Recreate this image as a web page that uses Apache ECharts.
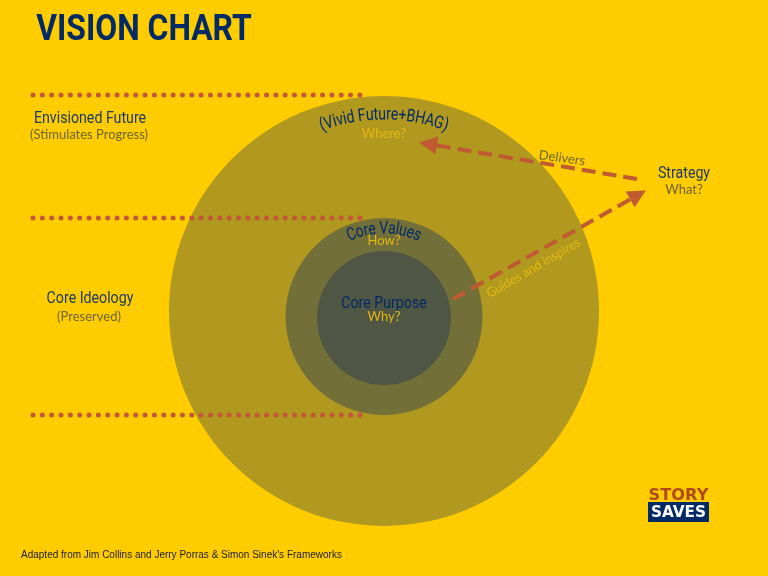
<!DOCTYPE html>
<html>
<head>
<meta charset="utf-8">
<title>Vision Chart</title>
<script src="https://cdn.jsdelivr.net/npm/echarts@6/dist/echarts.min.js"></script>
<style>
  html, body { margin: 0; padding: 0; background: #ffcc00; }
  #chart { width: 768px; height: 576px; }
</style>
</head>
<body>
<div id="chart"></div>
<script>
// circles, outermost first: centre x, centre y, radius (in picture pixels)
const circleX = [384, 384, 384];
const circleY = [311, 316.5, 318];
const circleR = [215, 98.5, 67];
const circleColors = ['#b0991e', '#736f39', '#505644'];

// dotted rows
const dotRowY = [95, 218, 415];
const dotRowX = [33, 361];

// arrows: [from, middle of the head]
const arrows = [
  [[637, 179], [428, 144]],
  [[453, 299], [638, 195]]
];

// straight texts
const labels = ['VISION CHART', 'Envisioned Future', '(Stimulates Progress)', 'Core Ideology', '(Preserved)',
  'Where?', 'How?', 'Core Purpose', 'Why?', 'Strategy', 'What?', 'Delivers', 'Guides and inspires',
  'STORY', 'SAVES', "Adapted from Jim Collins and Jerry Porras & Simon Sinek's Frameworks"];

const navy = '#012a66';
const gold = '#e3b912';
const cond = 'Roboto';
const body = 'Lato';
// x, y, size, weight, family, colour, rotation (deg clockwise), x scale, align
const labelLook = [
  [144, 31, 36, 700, cond, navy, 0, 0.885, 'center'],
  [90, 119, 16.5, 400, cond, '#1d3a63', 0, 0.86, 'center'],
  [89, 135, 13, 400, body, '#6a6534', 0, 1, 'center'],
  [90, 299, 16.5, 400, cond, '#1d3a63', 0, 0.86, 'center'],
  [89, 317, 13, 400, body, '#6a6534', 0, 1, 'center'],
  [384, 134, 13, 400, body, gold, 0, 1, 'center'],
  [384, 241, 13, 400, body, gold, 0, 1, 'center'],
  [384, 304, 16.5, 400, cond, navy, 0, 0.86, 'center'],
  [384, 317, 13, 400, body, gold, 0, 1, 'center'],
  [684, 174, 16.5, 400, cond, '#1d3a63', 0, 0.86, 'center'],
  [684, 190, 13, 400, body, '#6a6534', 0, 1, 'center'],
  [562, 158, 13, 400, body, '#6b6530', 8, 1, 'center'],
  [533.5, 268, 13, 400, body, gold, -30, 0.96, 'center'],
  [678.5, 496, 15, 700, 'DejaVu Sans', '#b04a1e', 0, 1.08, 'center'],
  [678.5, 513, 15, 700, 'DejaVu Sans', '#ffffff', 0, 1.02, 'center'],
  [21, 555, 10, 400, 'Liberation Sans', '#222222', 0, 1, 'left']
];

// curved texts: text, arc centre x, y, radius, size
const arcTexts = ['(Vivid Future+BHAG)', 'Core Values'];
const arcLook = [
  [384, 294, 179, 17.5, 0.81],
  [384, 314, 85, 17.5, 0.8]
];

// logo plate
const plate = [[648, 502], [709, 522]];

const measure = document.createElement('canvas').getContext('2d');

// one record per character, placed along its arc
const arcChars = [];
arcTexts.forEach((text, i) => {
  const [cx, cy, r, size, sx] = arcLook[i];
  measure.font = `${size}px ${cond}`;
  const chars = text.split('');
  const widths = chars.map(c => measure.measureText(c).width * sx);
  const total = widths.reduce((a, b) => a + b, 0);
  let run = -total / 2;
  chars.forEach((c, k) => {
    const a = (run + widths[k] / 2) / r;
    run += widths[k];
    arcChars.push({ c, x: cx + r * Math.sin(a), y: cy - r * Math.cos(a), rot: a, size, sx });
  });
});

const chart = echarts.init(document.getElementById('chart'));

chart.setOption({
  animation: false,
  backgroundColor: '#ffcc00',
  grid: { left: 0, right: 0, top: 0, bottom: 0 },
  xAxis: { type: 'value', min: 0, max: 768, show: false },
  yAxis: { type: 'value', min: 0, max: 576, inverse: true, show: false },
  series: [
    {
      type: 'custom',
      z: 1,
      silent: true,
      clip: false,
      data: circleX.map((x, i) => [x, circleY[i], circleR[i]]),
      renderItem(params, api) {
        const c = api.coord([api.value(0), api.value(1)]);
        return {
          type: 'circle',
          shape: { cx: c[0], cy: c[1], r: api.size([api.value(2), 0])[0] },
          style: { fill: circleColors[params.dataIndex] }
        };
      }
    },
    ...dotRowY.map(y => ({
      type: 'line',
      z: 2,
      silent: true,
      showSymbol: false,
      data: dotRowX.map(x => [x, y]),
      lineStyle: { color: '#c4573a', width: 5, type: [0.01, 9.33], cap: 'round' }
    })),
    {
      type: 'lines',
      coordinateSystem: 'cartesian2d',
      z: 3,
      silent: true,
      symbol: ['none', 'triangle'],
      symbolSize: 18,
      data: arrows.map(a => ({ coords: a })),
      lineStyle: { color: '#bf5a32', width: 4, type: [14, 7], opacity: 1, curveness: 0 }
    },
    {
      type: 'custom',
      z: 4,
      silent: true,
      clip: false,
      data: [plate[0].concat(plate[1])],
      renderItem(params, api) {
        const a = api.coord([api.value(0), api.value(1)]);
        const b = api.coord([api.value(2), api.value(3)]);
        return {
          type: 'rect',
          shape: { x: a[0], y: a[1], width: b[0] - a[0], height: b[1] - a[1] },
          style: { fill: navy }
        };
      }
    },
    {
      type: 'custom',
      z: 5,
      silent: true,
      clip: false,
      data: labelLook.map(l => [l[0], l[1]]),
      renderItem(params, api) {
        const l = labelLook[params.dataIndex];
        const p = api.coord([api.value(0), api.value(1)]);
        return {
          type: 'text',
          x: p[0],
          y: p[1],
          rotation: -l[6] * Math.PI / 180,
          scaleX: l[7],
          style: {
            text: labels[params.dataIndex],
            fill: l[5],
            font: `${l[3]} ${l[2]}px "${l[4]}"`,
            textAlign: l[8],
            textVerticalAlign: 'middle'
          }
        };
      }
    },
    {
      type: 'custom',
      z: 5,
      silent: true,
      clip: false,
      data: arcChars.map(c => [c.x, c.y]),
      renderItem(params, api) {
        const c = arcChars[params.dataIndex];
        const p = api.coord([api.value(0), api.value(1)]);
        return {
          type: 'text',
          x: p[0],
          y: p[1],
          rotation: -c.rot,
          scaleX: c.sx,
          style: {
            text: c.c,
            fill: navy,
            font: `${c.size}px "${cond}"`,
            textAlign: 'center',
            textVerticalAlign: 'middle'
          }
        };
      }
    }
  ]
});
</script>
</body>
</html>
